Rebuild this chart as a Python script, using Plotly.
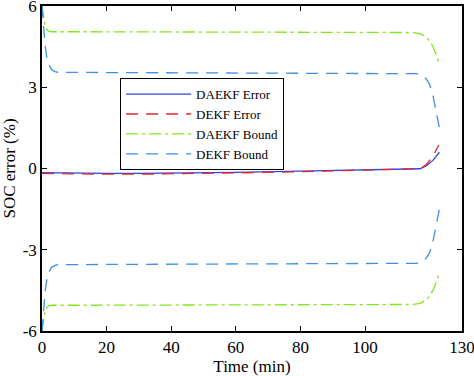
import plotly.graph_objects as go

# DAEKF bound (upper / lower)
t_daekf_bound = [0, 0.5, 1, 2, 3, 10, 50, 100, 115, 117, 119, 120, 121, 122, 123]
daekf_bound_up = [6, 5.6, 5.2, 5.07, 5.05, 5.05, 5.04, 5.03, 5.02, 4.98, 4.85, 4.7, 4.5, 4.2, 3.85]
daekf_bound_lo = [-6, -5.6, -5.2, -5.07, -5.05, -5.05, -5.04, -5.03, -5.02, -4.98, -4.85, -4.7, -4.5, -4.2, -3.85]

# DEKF bound (upper / lower)
t_dekf_bound = [0, 0.5, 1, 1.5, 2, 3, 4, 5, 50, 100, 116, 117.5, 119, 120, 121, 122, 123]
dekf_bound_up = [6, 5.2, 4.5, 4.1, 3.85, 3.65, 3.58, 3.55, 3.53, 3.52, 3.5, 3.45, 3.3, 3.1, 2.7, 2.1, 1.5]
dekf_bound_lo = [-6, -5.2, -4.5, -4.1, -3.85, -3.65, -3.58, -3.55, -3.53, -3.52, -3.5, -3.45, -3.3, -3.1, -2.7, -2.1, -1.5]

# Errors
t_err = [0, 10, 20, 30, 40, 60, 80, 100, 110, 117, 119, 121, 123]
daekf_err = [-0.15, -0.17, -0.18, -0.18, -0.17, -0.14, -0.1, -0.06, -0.04, -0.01, 0.1, 0.3, 0.6]
t_err2 = [0, 10, 20, 30, 40, 60, 80, 100, 110, 117, 119, 121, 122.8]
dekf_err = [-0.18, -0.2, -0.21, -0.21, -0.2, -0.16, -0.12, -0.07, -0.04, -0.01, 0.15, 0.45, 0.87]

x_ticks = [0, 20, 40, 60, 80, 100, 130]
y_ticks = [-6, -3, 0, 3, 6]

c_blue = "#2f45e6"
c_red = "#e3242b"
c_green = "#84e61e"
c_lblue = "#3d8fe8"
lw = 1.3

fig = go.Figure()
fig.add_trace(go.Scatter(x=t_err, y=daekf_err, mode="lines", name="DAEKF Error",
                         line=dict(color=c_blue, width=lw)))
fig.add_trace(go.Scatter(x=t_err2, y=dekf_err, mode="lines", name="DEKF Error",
                         line=dict(color=c_red, width=lw, dash="12px,8px")))
fig.add_trace(go.Scatter(x=t_daekf_bound, y=daekf_bound_up, mode="lines", name="DAEKF Bound",
                         line=dict(color=c_green, width=lw, dash="12px,4px,3px,4px")))
fig.add_trace(go.Scatter(x=t_dekf_bound, y=dekf_bound_up, mode="lines", name="DEKF Bound",
                         line=dict(color=c_lblue, width=lw, dash="12px,8px")))
fig.add_trace(go.Scatter(x=t_daekf_bound, y=daekf_bound_lo, mode="lines", showlegend=False,
                         line=dict(color=c_green, width=lw, dash="12px,4px,3px,4px")))
fig.add_trace(go.Scatter(x=t_dekf_bound, y=dekf_bound_lo, mode="lines", showlegend=False,
                         line=dict(color=c_lblue, width=lw, dash="12px,8px")))

font_family = "Liberation Serif"
axis_common = dict(showline=True, linecolor="black", linewidth=1.5, mirror="ticks",
                   ticks="inside", ticklen=5, tickcolor="black", showgrid=False,
                   zeroline=False, automargin=False, ticklabeloverflow="allow",
                   tickfont=dict(family=font_family, size=17, color="black"))

fig.update_layout(
    width=474, height=376,
    margin=dict(l=42, r=12, t=6, b=45, autoexpand=False),
    paper_bgcolor="white", plot_bgcolor="white",
    font=dict(family=font_family, color="black"),
    xaxis=dict(range=[0, 130], tickvals=x_ticks, ticktext=[str(v) for v in x_ticks],
               title=dict(text="Time (min)", font=dict(family=font_family, size=17), standoff=2),
               **axis_common),
    yaxis=dict(range=[-6, 6], tickvals=y_ticks, ticktext=[str(v) for v in y_ticks],
               title=dict(text="SOC error (%)", font=dict(family=font_family, size=17), standoff=4),
               **axis_common),
    legend=dict(x=0.186, y=0.778, xanchor="left", yanchor="top",
                bgcolor="white", bordercolor="black", borderwidth=1,
                font=dict(family=font_family, size=13, color="black"),
                itemwidth=65, tracegroupgap=0),
    showlegend=True,
)

fig.write_html("out.html", config={"displayModeBar": False},
               post_script="document.body.style.margin='0';document.body.style.overflow='hidden';")
